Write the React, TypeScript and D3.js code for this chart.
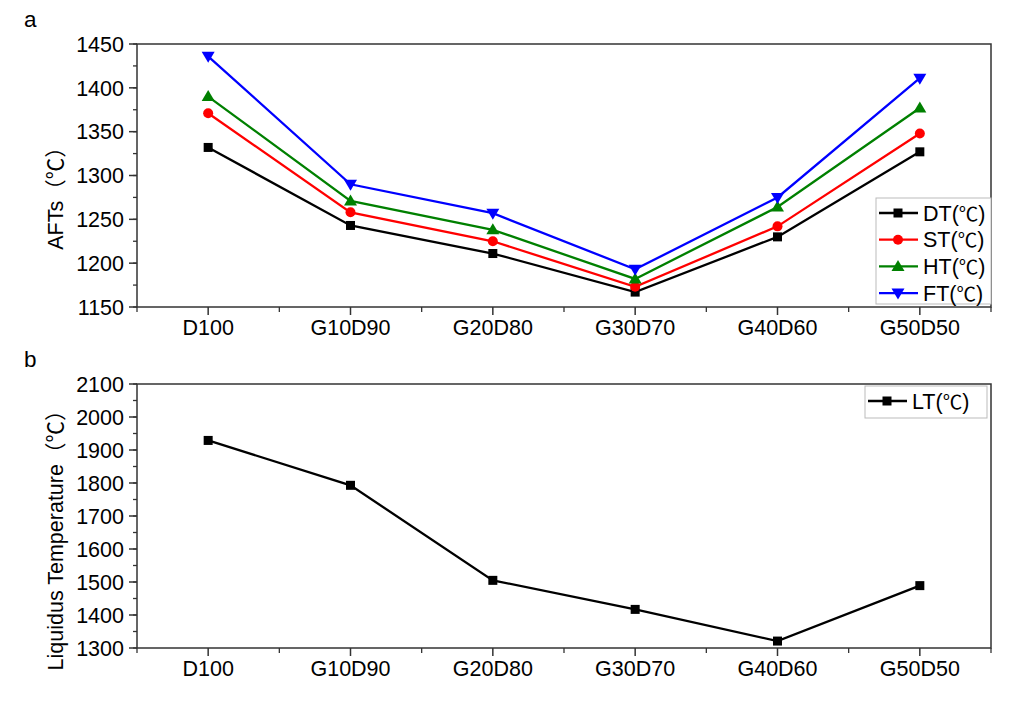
import React from "react";
import * as d3 from "d3";

const categories = ["D100", "G10D90", "G20D80", "G30D70", "G40D60", "G50D50"];
const dtValues = [1332, 1243, 1211, 1167, 1230, 1327];
const stValues = [1371, 1258, 1225, 1173, 1242, 1348];
const htValues = [1390, 1271, 1238, 1182, 1264, 1377];
const ftValues = [1436, 1290, 1257, 1193, 1275, 1411];
const ltValues = [1929, 1793, 1505, 1417, 1321, 1489];
const ticksA = [1150, 1200, 1250, 1300, 1350, 1400, 1450];
const ticksB = [1300, 1400, 1500, 1600, 1700, 1800, 1900, 2000, 2100];

const seriesA = [
  { name: "DT", values: dtValues, color: "#000000", marker: "square" },
  { name: "ST", values: stValues, color: "#ff0000", marker: "circle" },
  { name: "HT", values: htValues, color: "#008000", marker: "up" },
  { name: "FT", values: ftValues, color: "#0000ff", marker: "down" },
];

const FONT = "'Liberation Sans', Arial, sans-serif";
const CJK = "'Noto Sans CJK SC', sans-serif";
const FS = 21.5;
const AXIS = "#333";

function Marker({ type, x, y, color }: { type: string; x: number; y: number; color: string }) {
  if (type === "square") return <rect x={x - 4.5} y={y - 4.5} width={9} height={9} fill={color} />;
  if (type === "circle") return <circle cx={x} cy={y} r={5} fill={color} />;
  if (type === "up") {
    const p = d3.path();
    p.moveTo(x, y - 6.5); p.lineTo(x + 6.5, y + 4.5); p.lineTo(x - 6.5, y + 4.5); p.closePath();
    return <path d={p.toString()} fill={color} />;
  }
  const p = d3.path();
  p.moveTo(x, y + 6.5); p.lineTo(x + 6.5, y - 4.5); p.lineTo(x - 6.5, y - 4.5); p.closePath();
  return <path d={p.toString()} fill={color} />;
}

function Panel({
  top, bottom, domain, ticks, minorStep, series, label, labelY, letter, legend,
}: any) {
  const left = 137, right = 991;
  const x = d3.scalePoint<string>().domain(categories).range([left, right]).padding(0.5);
  const y = d3.scaleLinear().domain(domain).range([bottom, top]);
  const step = x.step();
  const minorX = d3.range(categories.length + 1).map((i) => left + i * step);
  const minorY = d3.range(domain[0], domain[1] + 0.001, minorStep);
  const line = d3.line<number>().x((_, i) => x(categories[i])!).y((v) => y(v));
  return (
    <g fontFamily={FONT}>
      <text x={24} y={top - 17} fontSize={FS + 1}>{letter}</text>
      <rect x={left} y={top} width={right - left} height={bottom - top} fill="none" stroke={AXIS} strokeWidth={1.5} />
      {minorY.map((v: number) => (
        <line key={"my" + v} x1={left - 4} x2={left} y1={y(v)} y2={y(v)} stroke={AXIS} strokeWidth={1.3} />
      ))}
      {ticks.map((v: number) => (
        <g key={"y" + v}>
          <line x1={left - 8} x2={left} y1={y(v)} y2={y(v)} stroke={AXIS} strokeWidth={1.5} />
          <text x={124} y={y(v)} dy="0.36em" textAnchor="end" fontSize={FS}>{v}</text>
        </g>
      ))}
      {minorX.map((v: number, i: number) => (
        <line key={"mx" + i} x1={v} x2={v} y1={bottom} y2={bottom + 5} stroke={AXIS} strokeWidth={1.3} />
      ))}
      {categories.map((c) => (
        <g key={c}>
          <line x1={x(c)} x2={x(c)} y1={bottom} y2={bottom + 8} stroke={AXIS} strokeWidth={1.5} />
          <text x={x(c)} y={bottom + 28} textAnchor="middle" fontSize={FS}>{c}</text>
        </g>
      ))}
      <text transform={`translate(63,${labelY}) rotate(-90)`} textAnchor="middle" fontSize={FS}>
        {label}
        <tspan fontFamily={CJK}>（℃）</tspan>
      </text>
      {series.map((s: any) => (
        <g key={s.name}>
          <path d={line(s.values)!} fill="none" stroke={s.color} strokeWidth={2.3} />
          {s.values.map((v: number, i: number) => (
            <Marker key={i} type={s.marker} x={x(categories[i])!} y={y(v)} color={s.color} />
          ))}
        </g>
      ))}
      <rect x={legend.x} y={legend.y} width={legend.w} height={legend.h} fill="#fff" stroke="#bbb" strokeWidth={1} />
      {series.map((s: any, i: number) => {
        const ly = legend.y + 15 + i * 26.7;
        return (
          <g key={"lg" + s.name}>
            <line x1={legend.x + 3} x2={legend.x + 42} y1={ly} y2={ly} stroke={s.color} strokeWidth={2.3} />
            <Marker type={s.marker} x={legend.x + 22} y={ly} color={s.color} />
            <text x={legend.x + 47} y={ly} dy="0.36em" fontSize={FS}>
              {s.name}(<tspan fontFamily={CJK} fontSize={FS - 2}>℃</tspan>)
            </text>
          </g>
        );
      })}
    </g>
  );
}

export default function App() {
  return (
    <svg width={1024} height={713} style={{ position: "absolute", left: 0, top: 0, background: "#fff" }}>
      <rect width={1024} height={713} fill="#fff" />
      <Panel
        top={44} bottom={307} domain={[1150, 1450]} ticks={ticksA} minorStep={25}
        series={seriesA} label="AFTs" labelY={193} letter="a"
        legend={{ x: 876, y: 198, w: 115, h: 106 }}
      />
      <Panel
        top={384} bottom={648} domain={[1300, 2100]} ticks={ticksB} minorStep={50}
        series={[{ name: "LT", values: ltValues, color: "#000000", marker: "square" }]}
        label="Liquidus Temperature" labelY={535} letter="b"
        legend={{ x: 865, y: 386, w: 122, h: 32 }}
      />
    </svg>
  );
}
